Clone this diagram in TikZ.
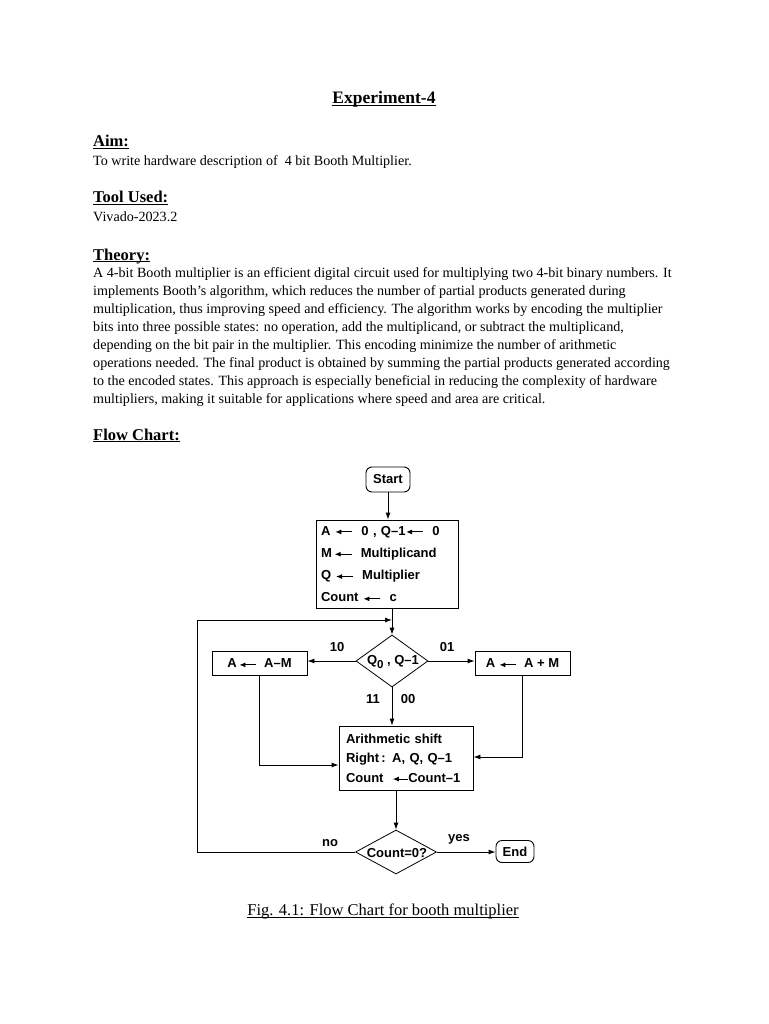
\documentclass[tikz,border=0pt]{standalone}
\usepackage{fontspec}
\setmainfont{Liberation Serif}
\newfontfamily\fcfont{Liberation Sans}
\usetikzlibrary{shapes.geometric,arrows.meta}
\newcommand\larr[1][17]{\tikz[baseline=-0.45ex]\draw[line width=1.1pt,{Latex[length=6pt,width=5pt]}-] (0pt,0pt)--(#1pt,0pt);}
\newcommand\ul[2][2.2pt]{\setbox0\hbox{#2}\rlap{\rule[-#1]{\wd0}{0.9pt}}\box0}
\newcommand\nd{\textendash}
\tikzset{
 body/.style={anchor=base west, inner sep=0, font=\fontsize{14.1}{16}\selectfont},
 head/.style={anchor=base west, inner sep=0, font=\bfseries\fontsize{16.5}{18}\selectfont},
 fc/.style={font=\fcfont\bfseries\fontsize{13}{14}\selectfont},
 box/.style={draw, line width=0.9pt, rectangle, inner sep=0, fc},
 term/.style={box, rounded corners=6pt},
 dia/.style={draw, diamond, line width=0.8pt, inner sep=0},
 arr/.style={line width=0.9pt, -{Latex[length=7pt,width=5pt]}},
 lbl/.style={fc, inner sep=0}
}
\begin{document}
\begin{tikzpicture}[x=1pt,y=-1pt]
\fill[white] (0,0) rectangle (768,1024);
\path[use as bounding box] (0,0) rectangle (768,1024);
% header text
\node[anchor=base, inner sep=0, font=\bfseries\fontsize{17.5}{20}\selectfont] (title) at (384,104) {\ul{Experiment-4}};
\node[head] (aim) at (93,147) {\ul{Aim:}};
\node[body] (aimt) at (93,166) {To write hardware description of\ \ 4 bit Booth Multiplier.};
\node[head] (tool) at (93,203) {\ul{Tool Used:}};
\node[body] (toolt) at (93,222) {Vivado-2023.2};
\node[head] (theory) at (93,260) {\ul{Theory:}};
\node[body] (t1) at (93,277) {A 4-bit Booth multiplier is an efficient digital circuit used for multiplying two 4-bit binary numbers. It};
\node[body] (t2) at (93,295) {implements Booth's algorithm, which reduces the number of partial products generated during};
\node[body] (t3) at (93,313) {multiplication, thus improving speed and efficiency. The algorithm works by encoding the multiplier};
\node[body] (t4) at (93,331) {bits into three possible states: no operation, add the multiplicand, or subtract the multiplicand,};
\node[body] (t5) at (93,349) {depending on the bit pair in the multiplier. This encoding minimize the number of arithmetic};
\node[body] (t6) at (93,367) {operations needed. The final product is obtained by summing the partial products generated according};
\node[body] (t7) at (93,385) {to the encoded states. This approach is especially beneficial in reducing the complexity of hardware};
\node[body] (t8) at (93,403) {multipliers, making it suitable for applications where speed and area are critical.};
\node[head] (flow) at (93,440) {\ul{Flow Chart:}};
\node[anchor=base, inner sep=0, font=\fontsize{16.5}{18}\selectfont] (cap) at (383,915) {\ul[3pt]{Fig. 4.1: Flow Chart for booth multiplier}};
% flowchart nodes
\node[term, minimum width=44, minimum height=25] (start) at (388,479.5) {Start};
\node[box, minimum width=142, minimum height=88, text width=132, align=left, font=\fcfont\bfseries\fontsize{13}{22.3}\selectfont] (init) at (387,564)
 {A\ \larr\ \ 0 , Q\nd1\larr\ \ 0\\ M\,\larr\ \ Multiplicand\\ Q\ \larr\ \ Multiplier\\ Count\ \larr\ \ c};
\node[dia, minimum width=72, minimum height=52] (d1) at (392,661) {};
\node[lbl] (d1t) at (393,662) {Q\raisebox{-0.45ex}{\fontsize{11.5}{11}\selectfont 0} , Q\nd1};
\node[box, minimum width=95, minimum height=24] (lbox) at (259.5,663.5) {A\,\larr\ \ A\nd M};
\node[box, minimum width=95, minimum height=24] (rbox) at (522.5,663.5) {A\ \larr\ \ A + M};
\node[box, minimum width=134, minimum height=64, text width=120, align=left, font=\fcfont\bfseries\fontsize{13}{19.5}\selectfont] (shift) at (406,758)
 {Arithmetic shift\\ Right\,: A, Q, Q\nd1\\ Count\ \ \larr[15]Count\nd1};
\node[dia, minimum width=81, minimum height=44] (d2) at (396,852) {};
\node[lbl] (d2t) at (397,853) {Count=0?};
\node[term, minimum width=38, minimum height=22] (end) at (515,851.5) {End};
% labels
\node[lbl] (l10) at (337,647) {10};
\node[lbl] (l01) at (447,647) {01};
\node[lbl] (l11) at (373,699) {11};
\node[lbl] (l00) at (408,699) {00};
\node[lbl] (lno) at (330,843) {no};
\node[lbl] (lyes) at (459,839) {yes};
% connectors
\coordinate (lpB) at (197,620);
\coordinate (lpend) at (392,620);
\draw[arr] (start.south) -- (start.south |- init.north);
\draw[arr] (init.south -| d1.north) -- (d1.north);
\draw[arr] (d1.west) -- (lbox.east |- d1.west);
\draw[arr] (d1.east) -- (rbox.west |- d1.east);
\draw[arr] (d1.south) -- (d1.south |- shift.north);
\draw[arr] (lbox.south) |- ([yshift=-7pt]shift.west);
\draw[arr] (rbox.south) |- ([yshift=1pt]shift.east);
\draw[arr] (shift.south -| d2.north) -- (d2.north);
\draw[arr] (d2.east) -- (end.west |- d2.east);
\draw[arr] (d2.west) -| (lpB) -- (lpend);
\end{tikzpicture}
\end{document}
